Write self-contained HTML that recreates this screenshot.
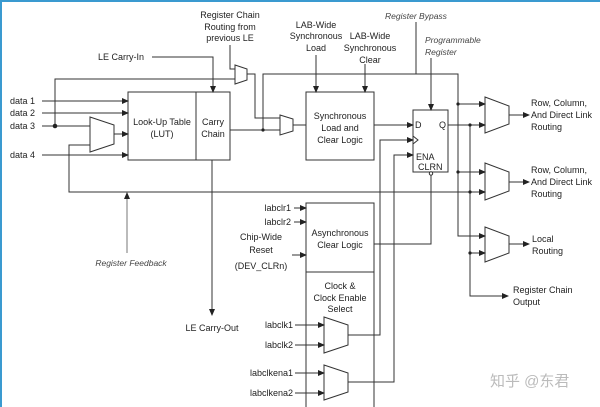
<!DOCTYPE html>
<html><head><meta charset="utf-8"><style>
body{margin:0;background:#fff}
svg{display:block}
text{font-family:"Liberation Sans",sans-serif;font-size:9px;fill:#222}
.i{font-style:italic;fill:#444;font-size:8.5px}
</style></head><body>
<svg width="600" height="407" viewBox="0 0 600 407">
<defs><marker id="a" markerWidth="7" markerHeight="6" refX="6" refY="3" orient="auto" markerUnits="userSpaceOnUse"><path d="M0,0L7,3L0,6z" fill="#222"/></marker></defs>
<rect x="0" y="0" width="600" height="2" fill="#3a9ad0"/>
<rect x="0" y="0" width="2" height="407" fill="#3a9ad0"/>
<g stroke="#333" stroke-width="1" fill="none">
<rect x="128" y="92" width="102" height="68" fill="#fff"/>
<line x1="196" y1="92" x2="196" y2="160"/>
<rect x="306" y="92" width="68" height="68"/>
<rect x="413" y="110" width="35" height="62"/>
<rect x="306" y="203" width="68" height="69"/>
<rect x="306" y="272" width="68" height="140"/>
<path d="M90,117L114,125L114,144L90,152z"/>
<path d="M235,65L247,69L247,80L235,84z"/>
<path d="M280,115L293,119L293,131L280,135z"/>
<path d="M485,97L509,106L509,124L485,133z"/>
<path d="M485,163L509,172L509,191L485,200z"/>
<path d="M485,227L509,236L509,253L485,262z"/>
<path d="M324,317L348,325L348,345L324,353z"/>
<path d="M324,365L348,373L348,392L324,400z"/>
<line x1="42" y1="101" x2="128" y2="101" marker-end="url(#a)"/>
<line x1="42" y1="113" x2="128" y2="113" marker-end="url(#a)"/>
<line x1="42" y1="126" x2="90" y2="126"/>
<line x1="114" y1="134" x2="128" y2="134" marker-end="url(#a)"/>
<line x1="42" y1="155" x2="128" y2="155" marker-end="url(#a)"/>
<polyline points="55,126 55,79 235,79"/>
<polyline points="152,57 213,57 213,92" marker-end="url(#a)"/>
<polyline points="230,45 230,69 235,69"/>
<polyline points="247,74 255,74 255,118 280,118"/>
<line x1="230" y1="130" x2="280" y2="130"/>
<polyline points="263,130 263,74 458,74 458,236 485,236" marker-end="url(#a)"/>
<line x1="416" y1="22" x2="416" y2="74"/>
<line x1="293" y1="125" x2="306" y2="125"/>
<line x1="316" y1="55" x2="316" y2="92" marker-end="url(#a)"/>
<line x1="365" y1="64" x2="365" y2="92" marker-end="url(#a)"/>
<line x1="374" y1="125" x2="413" y2="125" marker-end="url(#a)"/>
<line x1="431" y1="58" x2="431" y2="110" marker-end="url(#a)"/>
<polyline points="348,335 380,335 380,140 413,140" marker-end="url(#a)"/>
<path d="M413,136L418,140L413,144"/>
<polyline points="348,382 394,382 394,155 413,155" marker-end="url(#a)"/>
<polyline points="374,244 431,244 431,175"/>
<circle cx="431" cy="173.5" r="1.7" fill="#fff"/>
<line x1="448" y1="125" x2="485" y2="125" marker-end="url(#a)"/>
<line x1="458" y1="104" x2="485" y2="104" marker-end="url(#a)"/>
<line x1="458" y1="172" x2="485" y2="172" marker-end="url(#a)"/>
<polyline points="470,125 470,296 508,296" marker-end="url(#a)"/>
<line x1="470" y1="253" x2="485" y2="253" marker-end="url(#a)"/>
<polyline points="90,145 69,145 69,192 485,192" marker-end="url(#a)"/>
<line x1="127" y1="253" x2="127" y2="193" stroke="#777" marker-end="url(#a)"/>
<line x1="212" y1="160" x2="212" y2="315" marker-end="url(#a)"/>
<line x1="509" y1="115" x2="529" y2="115" marker-end="url(#a)"/>
<line x1="509" y1="182" x2="529" y2="182" marker-end="url(#a)"/>
<line x1="509" y1="244" x2="529" y2="244" marker-end="url(#a)"/>
<line x1="294" y1="208" x2="306" y2="208" marker-end="url(#a)"/>
<line x1="294" y1="222" x2="306" y2="222" marker-end="url(#a)"/>
<line x1="292" y1="255" x2="306" y2="255" marker-end="url(#a)"/>
<line x1="295" y1="325" x2="324" y2="325" marker-end="url(#a)"/>
<line x1="295" y1="345" x2="324" y2="345" marker-end="url(#a)"/>
<line x1="295" y1="373" x2="324" y2="373" marker-end="url(#a)"/>
<line x1="295" y1="393" x2="324" y2="393" marker-end="url(#a)"/>
</g>
<g fill="#222">
<circle cx="55" cy="126" r="2.3"/><circle cx="263" cy="130" r="1.6"/>
<circle cx="458" cy="104" r="1.6"/><circle cx="458" cy="172" r="1.6"/>
<circle cx="470" cy="125" r="1.6"/><circle cx="470" cy="192" r="1.6"/><circle cx="470" cy="253" r="1.6"/>
</g>
<text x="10" y="104">data 1</text><text x="10" y="116">data 2</text>
<text x="10" y="129">data 3</text><text x="10" y="158">data 4</text>
<text x="98" y="60">LE Carry-In</text>
<g text-anchor="middle">
<text x="230" y="18">Register Chain</text><text x="230" y="30">Routing from</text><text x="230" y="41">previous LE</text>
<text x="162" y="125">Look-Up Table</text><text x="162" y="137">(LUT)</text>
<text x="213" y="125">Carry</text><text x="213" y="137">Chain</text>
<text x="316" y="28">LAB-Wide</text><text x="316" y="39">Synchronous</text><text x="316" y="51">Load</text>
<text x="370" y="39">LAB-Wide</text><text x="370" y="51">Synchronous</text><text x="370" y="63">Clear</text>
<text class="i" x="416" y="19">Register Bypass</text>
<text x="340" y="119">Synchronous</text><text x="340" y="131">Load and</text><text x="340" y="143">Clear Logic</text>
<text x="340" y="236">Asynchronous</text><text x="340" y="248">Clear Logic</text>
<text x="340" y="289">Clock &amp;</text><text x="340" y="301">Clock Enable</text><text x="340" y="312">Select</text>
<text x="212" y="331">LE Carry-Out</text>
<text class="i" x="131" y="266">Register Feedback</text>
<text x="261" y="240">Chip-Wide</text><text x="261" y="253">Reset</text><text x="261" y="269">(DEV_CLRn)</text>
</g>
<text class="i" x="425" y="43">Programmable</text><text class="i" x="425" y="55">Register</text>
<text x="415" y="128">D</text><text x="439" y="128">Q</text>
<text x="416" y="160">ENA</text><text x="418" y="170">CLRN</text>
<text x="531" y="106">Row, Column,</text><text x="531" y="118">And Direct Link</text><text x="531" y="130">Routing</text>
<text x="531" y="173">Row, Column,</text><text x="531" y="185">And Direct Link</text><text x="531" y="197">Routing</text>
<text x="532" y="242">Local</text><text x="532" y="254">Routing</text>
<text x="513" y="293">Register  Chain</text><text x="513" y="305">Output</text>
<g text-anchor="end">
<text x="291" y="211">labclr1</text><text x="291" y="225">labclr2</text>
<text x="293" y="328">labclk1</text><text x="293" y="348">labclk2</text>
<text x="293" y="376">labclkena1</text><text x="293" y="396">labclkena2</text>
</g>
<text x="490" y="386" style="font-family:'Liberation Sans','Noto Sans CJK SC',sans-serif;font-size:15px;fill:#bbb">知乎 @东君</text>
</svg>
</body></html>
